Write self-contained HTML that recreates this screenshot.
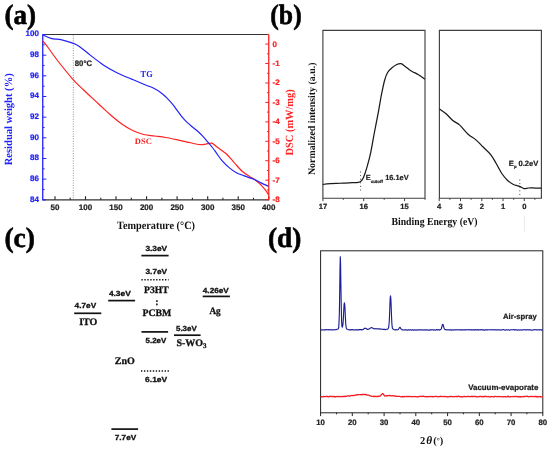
<!DOCTYPE html>
<html><head><meta charset="utf-8"><title>Figure</title>
<style>
html,body{margin:0;padding:0;background:#fff;}
svg{display:block;}
text{text-rendering:geometricPrecision;}
</style></head>
<body>
<svg width="550" height="449" viewBox="0 0 550 449">
<rect width="550" height="449" fill="#fff"/>
<text x="4.5" y="24" font-family="'Liberation Serif', 'Times New Roman', serif" font-weight="bold" font-size="28" stroke="#000" stroke-width="0.6" textLength="31.6" lengthAdjust="spacingAndGlyphs">(a)</text>
<line x1="42.75" y1="34.5" x2="268.75" y2="34.5" stroke="#333" stroke-width="1.1"/>
<line x1="42.75" y1="199.8" x2="268.75" y2="199.8" stroke="#333" stroke-width="1.3"/>
<line x1="55.0" y1="199.8" x2="55.0" y2="196.2" stroke="#222" stroke-width="1.1"/>
<line x1="70.2" y1="199.8" x2="70.2" y2="197.8" stroke="#222" stroke-width="1.1"/>
<line x1="85.5" y1="199.8" x2="85.5" y2="196.2" stroke="#222" stroke-width="1.1"/>
<line x1="100.8" y1="199.8" x2="100.8" y2="197.8" stroke="#222" stroke-width="1.1"/>
<line x1="116.0" y1="199.8" x2="116.0" y2="196.2" stroke="#222" stroke-width="1.1"/>
<line x1="131.3" y1="199.8" x2="131.3" y2="197.8" stroke="#222" stroke-width="1.1"/>
<line x1="146.6" y1="199.8" x2="146.6" y2="196.2" stroke="#222" stroke-width="1.1"/>
<line x1="161.9" y1="199.8" x2="161.9" y2="197.8" stroke="#222" stroke-width="1.1"/>
<line x1="177.1" y1="199.8" x2="177.1" y2="196.2" stroke="#222" stroke-width="1.1"/>
<line x1="192.4" y1="199.8" x2="192.4" y2="197.8" stroke="#222" stroke-width="1.1"/>
<line x1="207.7" y1="199.8" x2="207.7" y2="196.2" stroke="#222" stroke-width="1.1"/>
<line x1="222.9" y1="199.8" x2="222.9" y2="197.8" stroke="#222" stroke-width="1.1"/>
<line x1="238.2" y1="199.8" x2="238.2" y2="196.2" stroke="#222" stroke-width="1.1"/>
<line x1="253.5" y1="199.8" x2="253.5" y2="197.8" stroke="#222" stroke-width="1.1"/>
<line x1="268.8" y1="199.8" x2="268.8" y2="196.2" stroke="#222" stroke-width="1.1"/>
<text x="55.0" y="209.95" text-anchor="middle" font-family="'Liberation Sans', Arial, sans-serif" font-weight="bold" font-size="8" fill="#222" stroke="#222" stroke-width="0.22">50</text>
<text x="85.5" y="209.95" text-anchor="middle" font-family="'Liberation Sans', Arial, sans-serif" font-weight="bold" font-size="8" fill="#222" stroke="#222" stroke-width="0.22">100</text>
<text x="116.0" y="209.95" text-anchor="middle" font-family="'Liberation Sans', Arial, sans-serif" font-weight="bold" font-size="8" fill="#222" stroke="#222" stroke-width="0.22">150</text>
<text x="146.6" y="209.95" text-anchor="middle" font-family="'Liberation Sans', Arial, sans-serif" font-weight="bold" font-size="8" fill="#222" stroke="#222" stroke-width="0.22">200</text>
<text x="177.1" y="209.95" text-anchor="middle" font-family="'Liberation Sans', Arial, sans-serif" font-weight="bold" font-size="8" fill="#222" stroke="#222" stroke-width="0.22">250</text>
<text x="207.7" y="209.95" text-anchor="middle" font-family="'Liberation Sans', Arial, sans-serif" font-weight="bold" font-size="8" fill="#222" stroke="#222" stroke-width="0.22">300</text>
<text x="238.2" y="209.95" text-anchor="middle" font-family="'Liberation Sans', Arial, sans-serif" font-weight="bold" font-size="8" fill="#222" stroke="#222" stroke-width="0.22">350</text>
<text x="268.8" y="209.95" text-anchor="middle" font-family="'Liberation Sans', Arial, sans-serif" font-weight="bold" font-size="8" fill="#222" stroke="#222" stroke-width="0.22">400</text>
<path d="M42.75,34.5 L42.75,199.8 L45.75,199.8" fill="none" stroke="#2222fa" stroke-width="1.3"/>
<line x1="42.75" y1="189.5" x2="44.55" y2="189.5" stroke="#2222fa" stroke-width="1"/>
<line x1="42.75" y1="179.1" x2="46.25" y2="179.1" stroke="#2222fa" stroke-width="1"/>
<line x1="42.75" y1="168.8" x2="44.55" y2="168.8" stroke="#2222fa" stroke-width="1"/>
<line x1="42.75" y1="158.5" x2="46.25" y2="158.5" stroke="#2222fa" stroke-width="1"/>
<line x1="42.75" y1="148.1" x2="44.55" y2="148.1" stroke="#2222fa" stroke-width="1"/>
<line x1="42.75" y1="137.8" x2="46.25" y2="137.8" stroke="#2222fa" stroke-width="1"/>
<line x1="42.75" y1="127.5" x2="44.55" y2="127.5" stroke="#2222fa" stroke-width="1"/>
<line x1="42.75" y1="117.2" x2="46.25" y2="117.2" stroke="#2222fa" stroke-width="1"/>
<line x1="42.75" y1="106.8" x2="44.55" y2="106.8" stroke="#2222fa" stroke-width="1"/>
<line x1="42.75" y1="96.5" x2="46.25" y2="96.5" stroke="#2222fa" stroke-width="1"/>
<line x1="42.75" y1="86.2" x2="44.55" y2="86.2" stroke="#2222fa" stroke-width="1"/>
<line x1="42.75" y1="75.8" x2="46.25" y2="75.8" stroke="#2222fa" stroke-width="1"/>
<line x1="42.75" y1="65.5" x2="44.55" y2="65.5" stroke="#2222fa" stroke-width="1"/>
<line x1="42.75" y1="55.2" x2="46.25" y2="55.2" stroke="#2222fa" stroke-width="1"/>
<line x1="42.75" y1="44.8" x2="44.55" y2="44.8" stroke="#2222fa" stroke-width="1"/>
<line x1="42.75" y1="34.5" x2="46.25" y2="34.5" stroke="#2222fa" stroke-width="1"/>
<text x="38.9" y="201.7" text-anchor="end" font-family="'Liberation Sans', Arial, sans-serif" font-weight="bold" font-size="8" fill="#2222fa" stroke="#2222fa" stroke-width="0.22">84</text>
<text x="38.9" y="181.0" text-anchor="end" font-family="'Liberation Sans', Arial, sans-serif" font-weight="bold" font-size="8" fill="#2222fa" stroke="#2222fa" stroke-width="0.22">86</text>
<text x="38.9" y="160.4" text-anchor="end" font-family="'Liberation Sans', Arial, sans-serif" font-weight="bold" font-size="8" fill="#2222fa" stroke="#2222fa" stroke-width="0.22">88</text>
<text x="38.9" y="139.7" text-anchor="end" font-family="'Liberation Sans', Arial, sans-serif" font-weight="bold" font-size="8" fill="#2222fa" stroke="#2222fa" stroke-width="0.22">90</text>
<text x="38.9" y="119.1" text-anchor="end" font-family="'Liberation Sans', Arial, sans-serif" font-weight="bold" font-size="8" fill="#2222fa" stroke="#2222fa" stroke-width="0.22">92</text>
<text x="38.9" y="98.4" text-anchor="end" font-family="'Liberation Sans', Arial, sans-serif" font-weight="bold" font-size="8" fill="#2222fa" stroke="#2222fa" stroke-width="0.22">94</text>
<text x="38.9" y="77.7" text-anchor="end" font-family="'Liberation Sans', Arial, sans-serif" font-weight="bold" font-size="8" fill="#2222fa" stroke="#2222fa" stroke-width="0.22">96</text>
<text x="38.9" y="57.1" text-anchor="end" font-family="'Liberation Sans', Arial, sans-serif" font-weight="bold" font-size="8" fill="#2222fa" stroke="#2222fa" stroke-width="0.22">98</text>
<text x="38.9" y="36.4" text-anchor="end" font-family="'Liberation Sans', Arial, sans-serif" font-weight="bold" font-size="8" fill="#2222fa" stroke="#2222fa" stroke-width="0.22">100</text>
<line x1="268.75" y1="34.5" x2="268.75" y2="200.4" stroke="#fa2222" stroke-width="1.3"/>
<line x1="268.75" y1="199.6" x2="265.25" y2="199.6" stroke="#fa2222" stroke-width="1"/>
<line x1="268.75" y1="189.9" x2="266.95" y2="189.9" stroke="#fa2222" stroke-width="1"/>
<line x1="268.75" y1="180.2" x2="265.25" y2="180.2" stroke="#fa2222" stroke-width="1"/>
<line x1="268.75" y1="170.5" x2="266.95" y2="170.5" stroke="#fa2222" stroke-width="1"/>
<line x1="268.75" y1="160.7" x2="265.25" y2="160.7" stroke="#fa2222" stroke-width="1"/>
<line x1="268.75" y1="151.0" x2="266.95" y2="151.0" stroke="#fa2222" stroke-width="1"/>
<line x1="268.75" y1="141.3" x2="265.25" y2="141.3" stroke="#fa2222" stroke-width="1"/>
<line x1="268.75" y1="131.6" x2="266.95" y2="131.6" stroke="#fa2222" stroke-width="1"/>
<line x1="268.75" y1="121.9" x2="265.25" y2="121.9" stroke="#fa2222" stroke-width="1"/>
<line x1="268.75" y1="112.1" x2="266.95" y2="112.1" stroke="#fa2222" stroke-width="1"/>
<line x1="268.75" y1="102.4" x2="265.25" y2="102.4" stroke="#fa2222" stroke-width="1"/>
<line x1="268.75" y1="92.7" x2="266.95" y2="92.7" stroke="#fa2222" stroke-width="1"/>
<line x1="268.75" y1="83.0" x2="265.25" y2="83.0" stroke="#fa2222" stroke-width="1"/>
<line x1="268.75" y1="73.3" x2="266.95" y2="73.3" stroke="#fa2222" stroke-width="1"/>
<line x1="268.75" y1="63.5" x2="265.25" y2="63.5" stroke="#fa2222" stroke-width="1"/>
<line x1="268.75" y1="53.8" x2="266.95" y2="53.8" stroke="#fa2222" stroke-width="1"/>
<line x1="268.75" y1="44.1" x2="265.25" y2="44.1" stroke="#fa2222" stroke-width="1"/>
<line x1="268.75" y1="34.4" x2="266.95" y2="34.4" stroke="#fa2222" stroke-width="1"/>
<text x="272.6" y="202.1" font-family="'Liberation Sans', Arial, sans-serif" font-weight="bold" font-size="8" fill="#fa2222" stroke="#fa2222" stroke-width="0.22">-8</text>
<text x="272.6" y="182.6" font-family="'Liberation Sans', Arial, sans-serif" font-weight="bold" font-size="8" fill="#fa2222" stroke="#fa2222" stroke-width="0.22">-7</text>
<text x="272.6" y="163.2" font-family="'Liberation Sans', Arial, sans-serif" font-weight="bold" font-size="8" fill="#fa2222" stroke="#fa2222" stroke-width="0.22">-6</text>
<text x="272.6" y="143.8" font-family="'Liberation Sans', Arial, sans-serif" font-weight="bold" font-size="8" fill="#fa2222" stroke="#fa2222" stroke-width="0.22">-5</text>
<text x="272.6" y="124.3" font-family="'Liberation Sans', Arial, sans-serif" font-weight="bold" font-size="8" fill="#fa2222" stroke="#fa2222" stroke-width="0.22">-4</text>
<text x="272.6" y="104.9" font-family="'Liberation Sans', Arial, sans-serif" font-weight="bold" font-size="8" fill="#fa2222" stroke="#fa2222" stroke-width="0.22">-3</text>
<text x="272.6" y="85.4" font-family="'Liberation Sans', Arial, sans-serif" font-weight="bold" font-size="8" fill="#fa2222" stroke="#fa2222" stroke-width="0.22">-2</text>
<text x="272.6" y="66.0" font-family="'Liberation Sans', Arial, sans-serif" font-weight="bold" font-size="8" fill="#fa2222" stroke="#fa2222" stroke-width="0.22">-1</text>
<text x="272.6" y="46.6" font-family="'Liberation Sans', Arial, sans-serif" font-weight="bold" font-size="8" fill="#fa2222" stroke="#fa2222" stroke-width="0.22">0</text>
<text transform="translate(11.8,119.3) rotate(-90)" text-anchor="middle" font-family="'Liberation Serif', 'Times New Roman', serif" font-weight="bold" font-size="11" fill="#2222fa" textLength="92" lengthAdjust="spacingAndGlyphs">Residual weight (%)</text>
<text transform="translate(292.5,122.4) rotate(-90)" text-anchor="middle" font-family="'Liberation Serif', 'Times New Roman', serif" font-weight="bold" font-size="11" fill="#fa2222" textLength="66" lengthAdjust="spacingAndGlyphs">DSC (mW/mg)</text>
<text x="156" y="228.8" text-anchor="middle" font-family="'Liberation Serif', 'Times New Roman', serif" font-weight="bold" font-size="11.2" fill="#111" textLength="78" lengthAdjust="spacingAndGlyphs">Temperature (°C)</text>
<line x1="73.3" y1="35.5" x2="73.3" y2="199.8" stroke="#777" stroke-width="0.8" stroke-dasharray="1,1.45"/>
<text x="74.8" y="66.1" font-family="'Liberation Sans', Arial, sans-serif" font-weight="bold" font-size="8" fill="#222" stroke="#222" stroke-width="0.22" textLength="17.3" lengthAdjust="spacingAndGlyphs">80°C</text>
<text x="140.6" y="76.8" font-family="'Liberation Serif', 'Times New Roman', serif" font-weight="bold" font-size="9" fill="#2222fa" textLength="12" lengthAdjust="spacingAndGlyphs">TG</text>
<text x="134.8" y="143.6" font-family="'Liberation Serif', 'Times New Roman', serif" font-weight="bold" font-size="8.5" fill="#fa2222">DSC</text>
<path d="M42.6,40.9 C43.2,41.6 44.0,42.0 46.5,45.3 C49.0,48.6 53.1,54.9 57.5,60.5 C61.9,66.1 68.4,74.2 72.7,79.1 C77.0,84.0 79.2,85.8 83.6,90.0 C88.0,94.2 94.4,100.0 98.9,104.2 C103.5,108.4 107.1,112.0 110.9,115.3 C114.7,118.6 118.2,121.5 121.8,124.0 C125.4,126.5 129.1,128.8 132.7,130.5 C136.3,132.2 140.0,133.6 143.6,134.5 C147.2,135.4 150.8,135.5 154.5,136.0 C158.2,136.5 161.8,136.9 165.5,137.5 C169.2,138.1 172.8,138.9 176.4,139.7 C180.0,140.5 183.3,141.3 187.3,142.1 C191.3,142.9 197.3,144.4 200.4,144.7 C203.5,145.0 203.9,144.3 205.8,144.1 C207.7,143.8 209.7,142.7 211.6,143.2 C213.5,143.7 215.1,145.5 217.5,147.3 C219.9,149.1 223.5,151.4 226.2,153.8 C228.9,156.2 230.8,158.9 233.5,161.8 C236.2,164.7 239.5,168.9 242.2,171.3 C244.9,173.7 247.3,175.0 249.5,176.4 C251.7,177.8 253.4,178.6 255.3,180.0 C257.2,181.4 259.4,183.4 261.1,185.1 C262.8,186.8 264.3,188.6 265.5,190.2 C266.7,191.8 267.9,193.8 268.4,194.5" fill="none" stroke="#fa2222" stroke-width="1.2"/>
<path d="M42.6,34.8 C44.0,35.4 47.7,37.5 50.9,38.3 C54.1,39.1 58.2,39.0 61.8,39.8 C65.4,40.6 69.8,42.0 72.7,43.1 C75.6,44.2 76.4,44.4 79.3,46.4 C82.2,48.4 86.2,52.0 90.2,55.1 C94.2,58.2 98.9,62.0 103.3,64.9 C107.7,67.8 111.7,70.1 116.4,72.5 C121.1,74.9 126.8,77.1 131.6,79.1 C136.4,81.1 141.5,83.2 145.0,84.7 C148.5,86.2 150.2,86.5 152.8,87.8 C155.4,89.1 158.3,90.8 160.6,92.5 C162.9,94.2 164.7,95.8 166.8,97.9 C168.9,100.0 171.3,102.7 173.1,104.9 C174.9,107.1 176.1,109.1 177.7,111.2 C179.2,113.3 180.8,115.5 182.4,117.4 C184.0,119.3 185.5,120.9 187.1,122.4 C188.7,123.9 190.0,125.0 191.8,126.5 C193.6,128.0 196.2,129.9 198.0,131.5 C199.8,133.1 201.1,134.4 202.7,136.1 C204.3,137.8 205.8,139.8 207.4,141.6 C209.0,143.4 210.6,145.2 212.0,147.0 C213.4,148.8 214.4,150.2 216.0,152.4 C217.6,154.6 219.6,157.9 221.8,160.4 C224.0,162.9 226.7,165.6 229.1,167.6 C231.5,169.6 234.0,171.4 236.4,172.7 C238.8,174.0 240.7,174.5 243.6,175.6 C246.5,176.7 250.9,178.1 253.8,179.3 C256.7,180.5 258.7,181.7 261.1,182.9 C263.5,184.1 267.2,185.7 268.4,186.3" fill="none" stroke="#2222fa" stroke-width="1.2"/>
<text x="270.3" y="24" font-family="'Liberation Serif', 'Times New Roman', serif" font-weight="bold" font-size="28" stroke="#000" stroke-width="0.6" textLength="31.4" lengthAdjust="spacingAndGlyphs">(b)</text>
<path d="M322.9,198.2 L322.9,30.3 L425.0,30.3 L425.0,198.2 Z" fill="none" stroke="#404040" stroke-width="1.15"/>
<path d="M439.4,198.2 L439.4,30.3 L541.4,30.3 L541.4,198.2 Z" fill="none" stroke="#404040" stroke-width="1.15"/>
<line x1="322.9" y1="198.2" x2="322.9" y2="201.2" stroke="#404040" stroke-width="1"/>
<line x1="343.3" y1="198.2" x2="343.3" y2="199.8" stroke="#404040" stroke-width="1"/>
<line x1="363.7" y1="198.2" x2="363.7" y2="201.2" stroke="#404040" stroke-width="1"/>
<line x1="384.2" y1="198.2" x2="384.2" y2="199.8" stroke="#404040" stroke-width="1"/>
<line x1="404.6" y1="198.2" x2="404.6" y2="201.2" stroke="#404040" stroke-width="1"/>
<line x1="425.0" y1="198.2" x2="425.0" y2="199.8" stroke="#404040" stroke-width="1"/>
<text x="322.9" y="209.1" text-anchor="middle" font-family="'Liberation Sans', Arial, sans-serif" font-weight="bold" font-size="7.6" fill="#222" stroke="#222" stroke-width="0.22">17</text>
<text x="363.7" y="209.1" text-anchor="middle" font-family="'Liberation Sans', Arial, sans-serif" font-weight="bold" font-size="7.6" fill="#222" stroke="#222" stroke-width="0.22">16</text>
<text x="404.6" y="209.1" text-anchor="middle" font-family="'Liberation Sans', Arial, sans-serif" font-weight="bold" font-size="7.6" fill="#222" stroke="#222" stroke-width="0.22">15</text>
<line x1="439.2" y1="198.2" x2="439.2" y2="201.2" stroke="#404040" stroke-width="1"/>
<line x1="449.9" y1="198.2" x2="449.9" y2="199.8" stroke="#404040" stroke-width="1"/>
<line x1="460.5" y1="198.2" x2="460.5" y2="201.2" stroke="#404040" stroke-width="1"/>
<line x1="471.1" y1="198.2" x2="471.1" y2="199.8" stroke="#404040" stroke-width="1"/>
<line x1="481.8" y1="198.2" x2="481.8" y2="201.2" stroke="#404040" stroke-width="1"/>
<line x1="492.4" y1="198.2" x2="492.4" y2="199.8" stroke="#404040" stroke-width="1"/>
<line x1="503.0" y1="198.2" x2="503.0" y2="201.2" stroke="#404040" stroke-width="1"/>
<line x1="513.7" y1="198.2" x2="513.7" y2="199.8" stroke="#404040" stroke-width="1"/>
<line x1="524.3" y1="198.2" x2="524.3" y2="201.2" stroke="#404040" stroke-width="1"/>
<line x1="534.9" y1="198.2" x2="534.9" y2="199.8" stroke="#404040" stroke-width="1"/>
<text x="439.2" y="209.1" text-anchor="middle" font-family="'Liberation Sans', Arial, sans-serif" font-weight="bold" font-size="7.6" fill="#222" stroke="#222" stroke-width="0.22">4</text>
<text x="460.5" y="209.1" text-anchor="middle" font-family="'Liberation Sans', Arial, sans-serif" font-weight="bold" font-size="7.6" fill="#222" stroke="#222" stroke-width="0.22">3</text>
<text x="481.8" y="209.1" text-anchor="middle" font-family="'Liberation Sans', Arial, sans-serif" font-weight="bold" font-size="7.6" fill="#222" stroke="#222" stroke-width="0.22">2</text>
<text x="503.0" y="209.1" text-anchor="middle" font-family="'Liberation Sans', Arial, sans-serif" font-weight="bold" font-size="7.6" fill="#222" stroke="#222" stroke-width="0.22">1</text>
<text x="524.3" y="209.1" text-anchor="middle" font-family="'Liberation Sans', Arial, sans-serif" font-weight="bold" font-size="7.6" fill="#222" stroke="#222" stroke-width="0.22">0</text>
<text transform="translate(315,118.8) rotate(-90)" text-anchor="middle" font-family="'Liberation Serif', 'Times New Roman', serif" font-weight="bold" font-size="10" fill="#111" textLength="112.5" lengthAdjust="spacingAndGlyphs">Normalized intensity (a.u.)</text>
<text x="434.5" y="224.6" text-anchor="middle" font-family="'Liberation Serif', 'Times New Roman', serif" font-weight="bold" font-size="10.8" fill="#111" textLength="86" lengthAdjust="spacingAndGlyphs">Binding Energy (eV)</text>
<path d="M322.7,184.5 C324.0,184.3 327.6,183.8 330.7,183.6 C333.8,183.4 337.8,183.2 341.4,183.1 C345.0,182.9 349.3,182.8 352.1,182.7 C354.9,182.6 356.8,182.7 358.3,182.4 C359.8,182.1 360.1,182.0 361.0,181.1 C361.9,180.2 362.7,179.5 363.7,177.0 C364.7,174.5 366.0,170.5 367.2,166.3 C368.4,162.2 369.6,157.8 370.8,152.1 C372.0,146.4 373.2,138.7 374.5,132.0 C375.8,125.3 377.2,118.2 378.4,111.8 C379.6,105.4 380.6,98.7 381.7,93.4 C382.8,88.1 383.7,83.5 384.7,80.0 C385.7,76.5 386.4,74.5 387.6,72.5 C388.8,70.5 390.3,69.2 391.7,68.0 C393.1,66.8 394.4,65.7 395.9,65.0 C397.4,64.3 399.4,63.5 400.9,63.7 C402.4,63.9 403.7,65.4 405.1,66.4 C406.5,67.4 408.1,68.8 409.3,69.7 C410.6,70.6 411.1,70.9 412.6,71.7 C414.1,72.5 416.5,73.5 418.5,74.7 C420.5,76.0 423.8,78.5 424.8,79.2" fill="none" stroke="#1a1a1a" stroke-width="1.25"/>
<path d="M439.5,108.9 C440.6,109.7 443.9,111.9 446.1,113.8 C448.3,115.7 450.6,118.7 452.8,120.5 C455.0,122.3 456.9,122.6 459.5,124.9 C462.1,127.2 465.6,132.0 468.4,134.5 C471.2,137.0 473.8,138.0 476.2,140.1 C478.6,142.2 480.5,144.4 482.9,146.8 C485.3,149.2 488.5,151.8 490.7,154.6 C492.9,157.4 494.3,160.3 496.2,163.5 C498.1,166.7 499.9,170.7 501.8,173.5 C503.7,176.3 505.5,178.4 507.4,180.2 C509.3,182.0 511.0,183.2 513.0,184.2 C515.0,185.2 517.8,185.7 519.6,186.4 C521.5,187.1 522.6,188.3 524.1,188.6 C525.6,188.9 526.6,188.1 528.5,188.0 C530.4,187.9 533.0,188.0 535.2,188.0 C537.4,188.0 540.5,188.2 541.5,188.2" fill="none" stroke="#1a1a1a" stroke-width="1.25"/>
<line x1="360.6" y1="171.5" x2="360.6" y2="193" stroke="#333" stroke-width="0.9" stroke-dasharray="1,2.6"/>
<line x1="519.8" y1="179.5" x2="519.8" y2="196.5" stroke="#333" stroke-width="0.9" stroke-dasharray="1,2.6"/>
<text x="365.8" y="179.6" font-family="'Liberation Sans', Arial, sans-serif" font-weight="bold" font-size="7.4" fill="#222" stroke="#222" stroke-width="0.22">E<tspan font-size="4.4" dy="2.9">cutoff</tspan><tspan dy="-2.9" dx="2.2">16.1eV</tspan></text>
<text x="508.8" y="166" font-family="'Liberation Sans', Arial, sans-serif" font-weight="bold" font-size="7.6" fill="#222" stroke="#222" stroke-width="0.22">E<tspan font-size="4.4" dy="2.5">F</tspan><tspan dy="-2.5" dx="1.9">0.2eV</tspan></text>
<line x1="524.5" y1="216" x2="524.5" y2="231.5" stroke="#e4e4e4" stroke-width="0.8"/>
<text x="4.4" y="246.9" font-family="'Liberation Serif', 'Times New Roman', serif" font-weight="bold" font-size="28" stroke="#000" stroke-width="0.6" textLength="30.6" lengthAdjust="spacingAndGlyphs">(c)</text>
<line x1="74.2" y1="313.3" x2="101.3" y2="313.3" stroke="#111" stroke-width="1.7"/>
<text x="74.6" y="307.5" font-family="'Liberation Sans', Arial, sans-serif" font-weight="bold" font-size="7.4" fill="#111" stroke="#111" stroke-width="0.3" textLength="21.6" lengthAdjust="spacingAndGlyphs">4.7eV</text>
<text x="79.2" y="324.7" font-family="'Liberation Serif', 'Times New Roman', serif" font-weight="bold" font-size="10" fill="#111" stroke="#111" stroke-width="0.3">ITO</text>
<line x1="108.2" y1="300.6" x2="135.1" y2="300.6" stroke="#111" stroke-width="1.7"/>
<text x="108.9" y="296.4" font-family="'Liberation Sans', Arial, sans-serif" font-weight="bold" font-size="7.4" fill="#111" stroke="#111" stroke-width="0.3" textLength="21.9" lengthAdjust="spacingAndGlyphs">4.3eV</text>
<line x1="141.4" y1="255.6" x2="168.6" y2="255.6" stroke="#111" stroke-width="1.7"/>
<text x="145.4" y="250.7" font-family="'Liberation Sans', Arial, sans-serif" font-weight="bold" font-size="7.4" fill="#111" stroke="#111" stroke-width="0.3" textLength="21.7" lengthAdjust="spacingAndGlyphs">3.3eV</text>
<line x1="141.4" y1="279.8" x2="168.6" y2="279.8" stroke="#111" stroke-width="1.5" stroke-dasharray="1.35,1.6"/>
<text x="145.5" y="274.4" font-family="'Liberation Sans', Arial, sans-serif" font-weight="bold" font-size="7.4" fill="#111" stroke="#111" stroke-width="0.3" textLength="21.6" lengthAdjust="spacingAndGlyphs">3.7eV</text>
<text x="144" y="293.4" font-family="'Liberation Serif', 'Times New Roman', serif" font-weight="bold" font-size="10" fill="#111" stroke="#111" stroke-width="0.3" textLength="24.6" lengthAdjust="spacingAndGlyphs">P3HT</text>
<text x="155.2" y="305" font-family="'Liberation Serif', 'Times New Roman', serif" font-weight="bold" font-size="10" fill="#111" stroke="#111" stroke-width="0.3">:</text>
<text x="142.5" y="316.4" font-family="'Liberation Serif', 'Times New Roman', serif" font-weight="bold" font-size="10" fill="#111" stroke="#111" stroke-width="0.3" textLength="28.8" lengthAdjust="spacingAndGlyphs">PCBM</text>
<line x1="202.7" y1="296.4" x2="229.9" y2="296.4" stroke="#111" stroke-width="1.7"/>
<text x="202.8" y="292.7" font-family="'Liberation Sans', Arial, sans-serif" font-weight="bold" font-size="7.4" fill="#111" stroke="#111" stroke-width="0.3" textLength="26.0" lengthAdjust="spacingAndGlyphs">4.26eV</text>
<text x="209.5" y="313.8" font-family="'Liberation Serif', 'Times New Roman', serif" font-weight="bold" font-size="10" fill="#111" stroke="#111" stroke-width="0.3" textLength="11.2" lengthAdjust="spacingAndGlyphs">Ag</text>
<line x1="141.5" y1="331.9" x2="168.1" y2="331.9" stroke="#111" stroke-width="1.7"/>
<text x="145.6" y="342.8" font-family="'Liberation Sans', Arial, sans-serif" font-weight="bold" font-size="7.4" fill="#111" stroke="#111" stroke-width="0.3" textLength="20.7" lengthAdjust="spacingAndGlyphs">5.2eV</text>
<line x1="174" y1="335.2" x2="200.6" y2="335.2" stroke="#111" stroke-width="1.7"/>
<text x="176.0" y="330.5" font-family="'Liberation Sans', Arial, sans-serif" font-weight="bold" font-size="7.4" fill="#111" stroke="#111" stroke-width="0.3" textLength="20.7" lengthAdjust="spacingAndGlyphs">5.3eV</text>
<text x="176.4" y="345.7" font-family="'Liberation Serif', 'Times New Roman', serif" font-weight="bold" font-size="10" fill="#111" stroke="#111" stroke-width="0.3">S-WO<tspan font-size="7" dy="1.9">3</tspan></text>
<text x="114.8" y="363.5" font-family="'Liberation Serif', 'Times New Roman', serif" font-weight="bold" font-size="10" fill="#111" stroke="#111" stroke-width="0.3" textLength="20" lengthAdjust="spacingAndGlyphs">ZnO</text>
<line x1="141" y1="371.1" x2="168.9" y2="371.1" stroke="#111" stroke-width="1.5" stroke-dasharray="1.35,1.6"/>
<text x="145.1" y="381.7" font-family="'Liberation Sans', Arial, sans-serif" font-weight="bold" font-size="7.4" fill="#111" stroke="#111" stroke-width="0.3" textLength="22.1" lengthAdjust="spacingAndGlyphs">6.1eV</text>
<line x1="111.4" y1="429.1" x2="138.1" y2="429.1" stroke="#111" stroke-width="1.7"/>
<text x="114.7" y="439.9" font-family="'Liberation Sans', Arial, sans-serif" font-weight="bold" font-size="7.4" fill="#111" stroke="#111" stroke-width="0.3" textLength="21.6" lengthAdjust="spacingAndGlyphs">7.7eV</text>
<text x="267.9" y="246.9" font-family="'Liberation Serif', 'Times New Roman', serif" font-weight="bold" font-size="28" stroke="#000" stroke-width="0.6" textLength="33.4" lengthAdjust="spacingAndGlyphs">(d)</text>
<rect x="320.6" y="250.8" width="222.2" height="162.0" fill="none" stroke="#222" stroke-width="1"/>
<line x1="320.6" y1="412.8" x2="320.6" y2="416.1" stroke="#222" stroke-width="1"/>
<line x1="336.5" y1="412.8" x2="336.5" y2="414.3" stroke="#222" stroke-width="1"/>
<line x1="352.3" y1="412.8" x2="352.3" y2="416.1" stroke="#222" stroke-width="1"/>
<line x1="368.2" y1="412.8" x2="368.2" y2="414.3" stroke="#222" stroke-width="1"/>
<line x1="384.1" y1="412.8" x2="384.1" y2="416.1" stroke="#222" stroke-width="1"/>
<line x1="400.0" y1="412.8" x2="400.0" y2="414.3" stroke="#222" stroke-width="1"/>
<line x1="415.8" y1="412.8" x2="415.8" y2="416.1" stroke="#222" stroke-width="1"/>
<line x1="431.7" y1="412.8" x2="431.7" y2="414.3" stroke="#222" stroke-width="1"/>
<line x1="447.6" y1="412.8" x2="447.6" y2="416.1" stroke="#222" stroke-width="1"/>
<line x1="463.4" y1="412.8" x2="463.4" y2="414.3" stroke="#222" stroke-width="1"/>
<line x1="479.3" y1="412.8" x2="479.3" y2="416.1" stroke="#222" stroke-width="1"/>
<line x1="495.2" y1="412.8" x2="495.2" y2="414.3" stroke="#222" stroke-width="1"/>
<line x1="511.1" y1="412.8" x2="511.1" y2="416.1" stroke="#222" stroke-width="1"/>
<line x1="526.9" y1="412.8" x2="526.9" y2="414.3" stroke="#222" stroke-width="1"/>
<line x1="542.8" y1="412.8" x2="542.8" y2="416.1" stroke="#222" stroke-width="1"/>
<text x="320.6" y="425" text-anchor="middle" font-family="'Liberation Sans', Arial, sans-serif" font-weight="bold" font-size="7.8" fill="#222" stroke="#222" stroke-width="0.22">10</text>
<text x="352.3" y="425" text-anchor="middle" font-family="'Liberation Sans', Arial, sans-serif" font-weight="bold" font-size="7.8" fill="#222" stroke="#222" stroke-width="0.22">20</text>
<text x="384.1" y="425" text-anchor="middle" font-family="'Liberation Sans', Arial, sans-serif" font-weight="bold" font-size="7.8" fill="#222" stroke="#222" stroke-width="0.22">30</text>
<text x="415.8" y="425" text-anchor="middle" font-family="'Liberation Sans', Arial, sans-serif" font-weight="bold" font-size="7.8" fill="#222" stroke="#222" stroke-width="0.22">40</text>
<text x="447.6" y="425" text-anchor="middle" font-family="'Liberation Sans', Arial, sans-serif" font-weight="bold" font-size="7.8" fill="#222" stroke="#222" stroke-width="0.22">50</text>
<text x="479.3" y="425" text-anchor="middle" font-family="'Liberation Sans', Arial, sans-serif" font-weight="bold" font-size="7.8" fill="#222" stroke="#222" stroke-width="0.22">60</text>
<text x="511.1" y="425" text-anchor="middle" font-family="'Liberation Sans', Arial, sans-serif" font-weight="bold" font-size="7.8" fill="#222" stroke="#222" stroke-width="0.22">70</text>
<text x="542.8" y="425" text-anchor="middle" font-family="'Liberation Sans', Arial, sans-serif" font-weight="bold" font-size="7.8" fill="#222" stroke="#222" stroke-width="0.22">80</text>
<text x="420" y="443.6" font-family="'Liberation Serif', 'Times New Roman', serif" font-weight="bold" font-size="10.5" fill="#111">2<tspan dx="1.1" font-style="italic" font-size="11.3">θ</tspan><tspan dx="0.9">(</tspan><tspan font-size="7.5" dy="-0.6">°</tspan><tspan dy="0.6">)</tspan></text>
<text x="503" y="319" font-family="'Liberation Sans', Arial, sans-serif" font-weight="bold" font-size="7.7" fill="#222" stroke="#222" stroke-width="0.22">Air-spray</text>
<text x="468.2" y="390.2" font-family="'Liberation Sans', Arial, sans-serif" font-weight="bold" font-size="7.9" fill="#222" stroke="#222" stroke-width="0.22">Vacuum-evaporate</text>
<path d="M320.6,330.0 L320.9,330.0 L321.2,329.9 L321.6,329.8 L321.9,329.8 L322.2,329.8 L322.5,330.0 L322.8,330.0 L323.1,330.0 L323.5,329.9 L323.8,330.0 L324.1,330.0 L324.4,329.9 L324.7,329.9 L325.1,329.9 L325.4,329.9 L325.7,329.9 L326.0,329.6 L326.3,329.6 L326.6,329.5 L327.0,329.7 L327.3,329.7 L327.6,329.8 L327.9,329.9 L328.2,329.9 L328.5,329.7 L328.9,329.6 L329.2,329.7 L329.5,329.9 L329.8,329.8 L330.1,329.7 L330.5,329.6 L330.8,329.7 L331.1,329.8 L331.4,329.8 L331.7,329.9 L332.0,329.9 L332.4,329.9 L332.7,329.8 L333.0,329.8 L333.3,329.8 L333.6,329.7 L334.0,329.7 L334.3,329.8 L334.6,329.7 L334.9,329.8 L335.2,329.6 L335.5,329.7 L335.9,329.7 L336.2,329.7 L336.5,329.6 L336.8,329.4 L337.1,329.3 L337.4,329.2 L337.8,329.1 L338.1,328.9 L338.4,328.5 L338.7,327.3 L339.0,323.0 L339.4,312.1 L339.7,292.0 L340.0,269.1 L340.3,256.7 L340.6,264.7 L340.9,286.5 L341.3,308.1 L341.6,321.0 L341.9,326.1 L342.2,327.2 L342.5,326.7 L342.9,324.8 L343.2,321.2 L343.5,315.6 L343.8,309.5 L344.1,304.4 L344.4,302.8 L344.8,305.3 L345.1,310.9 L345.4,317.6 L345.7,322.9 L346.0,326.3 L346.3,328.0 L346.7,328.8 L347.0,329.2 L347.3,329.2 L347.6,329.3 L347.9,329.4 L348.3,329.6 L348.6,329.7 L348.9,329.8 L349.2,329.8 L349.5,329.7 L349.8,329.9 L350.2,329.8 L350.5,329.9 L350.8,329.7 L351.1,329.8 L351.4,329.6 L351.8,329.5 L352.1,329.5 L352.4,329.6 L352.7,329.8 L353.0,330.0 L353.3,330.0 L353.7,329.9 L354.0,329.8 L354.3,329.9 L354.6,329.9 L354.9,329.9 L355.2,329.9 L355.6,330.0 L355.9,329.9 L356.2,329.8 L356.5,329.8 L356.8,329.8 L357.2,329.8 L357.5,329.7 L357.8,329.9 L358.1,329.9 L358.4,330.0 L358.7,329.8 L359.1,329.8 L359.4,329.6 L359.7,329.6 L360.0,329.6 L360.3,329.6 L360.7,329.7 L361.0,329.6 L361.3,329.8 L361.6,329.6 L361.9,329.8 L362.2,329.7 L362.6,329.6 L362.9,329.5 L363.2,329.5 L363.5,329.4 L363.8,329.0 L364.1,328.6 L364.5,328.3 L364.8,328.3 L365.1,328.2 L365.4,328.3 L365.7,328.3 L366.1,328.5 L366.4,328.6 L366.7,329.0 L367.0,329.1 L367.3,329.4 L367.6,329.4 L368.0,329.3 L368.3,329.2 L368.6,329.1 L368.9,329.0 L369.2,328.9 L369.6,328.7 L369.9,328.4 L370.2,328.1 L370.5,328.1 L370.8,327.9 L371.1,327.8 L371.5,327.6 L371.8,327.8 L372.1,327.9 L372.4,328.0 L372.7,328.0 L373.1,328.2 L373.4,328.4 L373.7,328.6 L374.0,328.8 L374.3,328.7 L374.6,328.8 L375.0,328.8 L375.3,328.8 L375.6,328.7 L375.9,328.6 L376.2,328.7 L376.5,328.8 L376.9,328.9 L377.2,328.8 L377.5,328.8 L377.8,328.8 L378.1,328.8 L378.5,328.9 L378.8,328.9 L379.1,328.9 L379.4,329.0 L379.7,329.1 L380.0,329.1 L380.4,329.0 L380.7,328.9 L381.0,328.9 L381.3,329.1 L381.6,329.2 L382.0,329.2 L382.3,329.2 L382.6,329.3 L382.9,329.4 L383.2,329.3 L383.5,329.4 L383.9,329.2 L384.2,329.4 L384.5,329.3 L384.8,329.5 L385.1,329.6 L385.4,329.7 L385.8,329.5 L386.1,329.2 L386.4,329.2 L386.7,329.2 L387.0,329.3 L387.4,329.2 L387.7,329.1 L388.0,328.8 L388.3,328.4 L388.6,327.6 L388.9,325.5 L389.3,321.0 L389.6,313.8 L389.9,305.2 L390.2,298.1 L390.5,295.8 L390.9,299.4 L391.2,307.2 L391.5,315.7 L391.8,322.4 L392.1,326.2 L392.4,328.1 L392.8,328.8 L393.1,329.1 L393.4,329.3 L393.7,329.4 L394.0,329.6 L394.3,329.6 L394.7,329.9 L395.0,329.8 L395.3,329.9 L395.6,329.7 L395.9,329.8 L396.3,329.7 L396.6,329.6 L396.9,329.7 L397.2,329.8 L397.5,329.8 L397.8,329.7 L398.2,329.6 L398.5,329.3 L398.8,328.8 L399.1,328.3 L399.4,327.8 L399.8,327.4 L400.1,327.4 L400.4,327.9 L400.7,328.5 L401.0,328.9 L401.3,329.0 L401.7,329.4 L402.0,329.7 L402.3,329.9 L402.6,329.9 L402.9,329.9 L403.2,330.0 L403.6,330.0 L403.9,330.0 L404.2,329.9 L404.5,329.9 L404.8,329.8 L405.2,330.0 L405.5,329.9 L405.8,329.9 L406.1,329.8 L406.4,329.8 L406.7,330.0 L407.1,330.1 L407.4,330.2 L407.7,330.1 L408.0,330.0 L408.3,329.8 L408.7,329.8 L409.0,329.7 L409.3,330.0 L409.6,329.8 L409.9,329.8 L410.2,329.8 L410.6,330.0 L410.9,330.0 L411.2,330.1 L411.5,330.1 L411.8,330.0 L412.2,330.0 L412.5,329.7 L412.8,329.9 L413.1,330.0 L413.4,330.2 L413.7,330.1 L414.1,330.1 L414.4,330.0 L414.7,329.9 L415.0,329.9 L415.3,329.9 L415.6,330.0 L416.0,330.1 L416.3,330.1 L416.6,329.9 L416.9,329.8 L417.2,330.0 L417.6,330.1 L417.9,330.1 L418.2,329.9 L418.5,329.8 L418.8,329.8 L419.1,329.9 L419.5,330.0 L419.8,329.9 L420.1,329.9 L420.4,329.9 L420.7,329.8 L421.1,329.8 L421.4,329.7 L421.7,329.9 L422.0,329.9 L422.3,330.0 L422.6,330.0 L423.0,330.1 L423.3,330.0 L423.6,329.9 L423.9,329.9 L424.2,329.9 L424.5,329.9 L424.9,330.0 L425.2,330.1 L425.5,330.1 L425.8,329.8 L426.1,329.8 L426.5,329.8 L426.8,329.8 L427.1,329.8 L427.4,329.9 L427.7,330.0 L428.0,330.1 L428.4,330.2 L428.7,330.1 L429.0,330.2 L429.3,330.1 L429.6,330.0 L430.0,329.7 L430.3,329.8 L430.6,329.9 L430.9,330.1 L431.2,330.0 L431.5,329.8 L431.9,329.7 L432.2,329.8 L432.5,329.9 L432.8,329.9 L433.1,329.9 L433.4,329.9 L433.8,329.9 L434.1,329.9 L434.4,329.9 L434.7,330.0 L435.0,330.1 L435.4,330.1 L435.7,330.1 L436.0,329.8 L436.3,329.8 L436.6,329.6 L436.9,329.6 L437.3,329.7 L437.6,329.9 L437.9,330.0 L438.2,329.8 L438.5,329.7 L438.9,329.6 L439.2,329.8 L439.5,330.0 L439.8,330.1 L440.1,329.9 L440.4,329.6 L440.8,329.4 L441.1,329.1 L441.4,328.5 L441.7,327.5 L442.0,326.1 L442.3,325.1 L442.7,324.4 L443.0,324.6 L443.3,325.3 L443.6,326.5 L443.9,327.7 L444.3,328.7 L444.6,329.2 L444.9,329.4 L445.2,329.5 L445.5,329.6 L445.8,329.7 L446.2,329.9 L446.5,329.9 L446.8,329.8 L447.1,329.7 L447.4,329.7 L447.8,329.9 L448.1,329.9 L448.4,330.0 L448.7,330.0 L449.0,329.9 L449.3,329.7 L449.7,329.8 L450.0,329.9 L450.3,329.8 L450.6,329.9 L450.9,329.9 L451.2,330.2 L451.6,330.0 L451.9,330.0 L452.2,329.8 L452.5,330.0 L452.8,330.0 L453.2,330.2 L453.5,330.0 L453.8,330.0 L454.1,329.7 L454.4,329.7 L454.7,329.8 L455.1,329.9 L455.4,330.0 L455.7,329.9 L456.0,329.9 L456.3,329.8 L456.7,329.7 L457.0,329.8 L457.3,329.8 L457.6,329.8 L457.9,329.8 L458.2,329.7 L458.6,329.7 L458.9,329.7 L459.2,329.9 L459.5,329.8 L459.8,329.9 L460.2,329.7 L460.5,329.8 L460.8,329.8 L461.1,329.9 L461.4,330.1 L461.7,329.9 L462.1,330.0 L462.4,329.9 L462.7,329.9 L463.0,329.9 L463.3,329.9 L463.6,330.0 L464.0,329.9 L464.3,329.9 L464.6,329.8 L464.9,329.8 L465.2,330.0 L465.6,329.9 L465.9,329.9 L466.2,329.7 L466.5,329.8 L466.8,329.7 L467.1,329.7 L467.5,329.7 L467.8,329.8 L468.1,329.9 L468.4,329.8 L468.7,329.6 L469.1,329.7 L469.4,329.8 L469.7,329.8 L470.0,329.8 L470.3,329.8 L470.6,329.8 L471.0,329.9 L471.3,329.8 L471.6,329.8 L471.9,329.6 L472.2,329.8 L472.5,329.9 L472.9,330.1 L473.2,329.9 L473.5,329.9 L473.8,329.9 L474.1,330.1 L474.5,330.0 L474.8,329.8 L475.1,329.6 L475.4,329.6 L475.7,329.8 L476.0,329.9 L476.4,329.9 L476.7,329.8 L477.0,329.7 L477.3,329.9 L477.6,329.8 L478.0,329.8 L478.3,329.6 L478.6,329.9 L478.9,329.8 L479.2,329.9 L479.5,329.7 L479.9,329.7 L480.2,329.8 L480.5,330.0 L480.8,330.0 L481.1,329.9 L481.4,329.6 L481.8,329.6 L482.1,329.7 L482.4,329.9 L482.7,329.9 L483.0,329.8 L483.4,329.8 L483.7,329.8 L484.0,330.0 L484.3,330.2 L484.6,330.1 L484.9,330.0 L485.3,329.8 L485.6,329.8 L485.9,329.8 L486.2,329.8 L486.5,329.7 L486.9,329.9 L487.2,329.8 L487.5,330.0 L487.8,329.9 L488.1,329.8 L488.4,329.7 L488.8,329.7 L489.1,329.7 L489.4,329.8 L489.7,329.9 L490.0,329.8 L490.3,329.8 L490.7,329.7 L491.0,329.7 L491.3,329.7 L491.6,329.6 L491.9,329.7 L492.3,329.7 L492.6,329.9 L492.9,329.9 L493.2,329.8 L493.5,329.7 L493.8,329.8 L494.2,329.7 L494.5,329.8 L494.8,329.8 L495.1,329.8 L495.4,329.8 L495.8,329.9 L496.1,329.9 L496.4,329.9 L496.7,329.8 L497.0,329.8 L497.3,329.8 L497.7,330.0 L498.0,330.0 L498.3,329.9 L498.6,329.8 L498.9,329.9 L499.3,330.0 L499.6,330.0 L499.9,329.8 L500.2,329.8 L500.5,329.9 L500.8,330.1 L501.2,330.1 L501.5,329.9 L501.8,329.9 L502.1,329.8 L502.4,329.7 L502.7,329.7 L503.1,329.6 L503.4,329.7 L503.7,329.6 L504.0,329.8 L504.3,329.9 L504.7,330.0 L505.0,330.0 L505.3,330.2 L505.6,330.2 L505.9,330.0 L506.2,329.7 L506.6,329.7 L506.9,329.8 L507.2,329.9 L507.5,330.0 L507.8,330.0 L508.2,329.9 L508.5,329.9 L508.8,329.9 L509.1,330.0 L509.4,330.1 L509.7,330.1 L510.1,330.0 L510.4,329.9 L510.7,329.8 L511.0,329.7 L511.3,329.7 L511.6,329.8 L512.0,329.9 L512.3,329.8 L512.6,329.7 L512.9,329.7 L513.2,329.7 L513.6,329.6 L513.9,329.6 L514.2,329.7 L514.5,330.0 L514.8,329.9 L515.1,329.9 L515.5,329.9 L515.8,329.7 L516.1,329.7 L516.4,329.7 L516.7,330.0 L517.1,330.1 L517.4,330.2 L517.7,330.1 L518.0,330.0 L518.3,330.0 L518.6,329.9 L519.0,329.9 L519.3,329.9 L519.6,330.1 L519.9,330.1 L520.2,330.0 L520.5,329.9 L520.9,330.0 L521.2,330.0 L521.5,330.1 L521.8,329.9 L522.1,329.9 L522.5,329.8 L522.8,329.9 L523.1,330.0 L523.4,329.9 L523.7,329.8 L524.0,329.7 L524.4,329.8 L524.7,329.7 L525.0,329.8 L525.3,329.9 L525.6,330.0 L526.0,329.9 L526.3,330.0 L526.6,329.9 L526.9,330.0 L527.2,329.9 L527.5,329.8 L527.9,329.7 L528.2,329.8 L528.5,329.9 L528.8,329.9 L529.1,329.9 L529.4,329.8 L529.8,329.8 L530.1,329.9 L530.4,329.9 L530.7,329.9 L531.0,329.9 L531.4,330.1 L531.7,330.3 L532.0,330.2 L532.3,330.1 L532.6,330.0 L532.9,330.0 L533.3,329.9 L533.6,329.8 L533.9,329.8 L534.2,329.8 L534.5,329.7 L534.9,329.5 L535.2,329.7 L535.5,329.7 L535.8,329.8 L536.1,329.8 L536.4,329.9 L536.8,329.9 L537.1,329.9 L537.4,329.8 L537.7,329.8 L538.0,329.7 L538.3,329.8 L538.7,329.9 L539.0,329.9 L539.3,329.8 L539.6,329.8 L539.9,329.9 L540.3,329.8 L540.6,329.7 L540.9,329.6 L541.2,330.0 L541.5,330.1 L541.8,330.1 L542.2,330.0 L542.5,330.1 L542.8,330.1" fill="none" stroke="#1e1e98" stroke-width="1.15" stroke-linejoin="round"/>
<path d="M320.6,396.5 L320.9,396.7 L321.2,396.7 L321.6,396.8 L321.9,396.7 L322.2,396.8 L322.5,396.9 L322.8,397.0 L323.1,396.9 L323.5,396.5 L323.8,396.5 L324.1,396.5 L324.4,396.7 L324.7,396.7 L325.1,396.7 L325.4,396.5 L325.7,396.4 L326.0,396.4 L326.3,396.5 L326.6,396.4 L327.0,396.5 L327.3,396.3 L327.6,396.5 L327.9,396.5 L328.2,396.8 L328.5,396.9 L328.9,396.9 L329.2,396.6 L329.5,396.4 L329.8,396.2 L330.1,396.4 L330.5,396.4 L330.8,396.4 L331.1,396.5 L331.4,396.3 L331.7,396.5 L332.0,396.5 L332.4,396.6 L332.7,396.6 L333.0,396.5 L333.3,396.5 L333.6,396.3 L334.0,396.4 L334.3,396.6 L334.6,396.9 L334.9,397.1 L335.2,397.0 L335.5,396.7 L335.9,396.7 L336.2,396.7 L336.5,396.7 L336.8,396.5 L337.1,396.6 L337.4,396.5 L337.8,396.5 L338.1,396.4 L338.4,396.4 L338.7,396.7 L339.0,396.7 L339.4,396.8 L339.7,396.6 L340.0,396.7 L340.3,396.6 L340.6,396.5 L340.9,396.5 L341.3,396.6 L341.6,396.7 L341.9,396.7 L342.2,396.6 L342.5,396.6 L342.9,396.4 L343.2,396.6 L343.5,396.4 L343.8,396.4 L344.1,396.1 L344.4,396.4 L344.8,396.5 L345.1,396.6 L345.4,396.4 L345.7,396.4 L346.0,396.2 L346.3,396.3 L346.7,396.3 L347.0,396.2 L347.3,396.0 L347.6,395.9 L347.9,395.8 L348.3,395.9 L348.6,396.0 L348.9,396.1 L349.2,396.3 L349.5,396.2 L349.8,396.0 L350.2,395.7 L350.5,395.6 L350.8,395.6 L351.1,395.7 L351.4,395.6 L351.8,395.5 L352.1,395.5 L352.4,395.5 L352.7,395.7 L353.0,395.6 L353.3,395.6 L353.7,395.5 L354.0,395.6 L354.3,395.5 L354.6,395.5 L354.9,395.4 L355.2,395.1 L355.6,395.0 L355.9,394.9 L356.2,395.0 L356.5,394.9 L356.8,395.0 L357.2,395.0 L357.5,394.9 L357.8,394.6 L358.1,394.5 L358.4,394.6 L358.7,394.6 L359.1,394.7 L359.4,394.6 L359.7,394.7 L360.0,394.6 L360.3,394.6 L360.7,394.6 L361.0,394.9 L361.3,394.8 L361.6,394.7 L361.9,394.4 L362.2,394.6 L362.6,394.5 L362.9,394.5 L363.2,394.5 L363.5,394.5 L363.8,394.5 L364.1,394.5 L364.5,394.4 L364.8,394.4 L365.1,394.4 L365.4,394.6 L365.7,394.8 L366.1,394.7 L366.4,394.7 L366.7,394.8 L367.0,395.1 L367.3,395.2 L367.6,395.1 L368.0,395.1 L368.3,395.1 L368.6,395.2 L368.9,395.1 L369.2,395.4 L369.6,395.6 L369.9,395.9 L370.2,395.8 L370.5,395.9 L370.8,395.9 L371.1,396.0 L371.5,396.2 L371.8,396.4 L372.1,396.5 L372.4,396.3 L372.7,396.3 L373.1,396.5 L373.4,396.5 L373.7,396.3 L374.0,396.2 L374.3,396.2 L374.6,396.4 L375.0,396.5 L375.3,396.5 L375.6,396.6 L375.9,396.3 L376.2,396.4 L376.5,396.5 L376.9,396.6 L377.2,396.6 L377.5,396.4 L377.8,396.5 L378.1,396.3 L378.5,396.3 L378.8,396.2 L379.1,396.3 L379.4,396.2 L379.7,396.2 L380.0,396.0 L380.4,395.9 L380.7,395.6 L381.0,395.2 L381.3,394.8 L381.6,394.4 L382.0,394.0 L382.3,393.7 L382.6,393.6 L382.9,393.7 L383.2,394.1 L383.5,394.3 L383.9,394.9 L384.2,395.5 L384.5,396.0 L384.8,396.0 L385.1,395.9 L385.4,395.8 L385.8,395.8 L386.1,395.9 L386.4,395.7 L386.7,395.8 L387.0,395.6 L387.4,395.8 L387.7,395.8 L388.0,395.7 L388.3,395.6 L388.6,395.6 L388.9,395.7 L389.3,395.7 L389.6,395.6 L389.9,395.4 L390.2,395.5 L390.5,395.6 L390.9,395.8 L391.2,395.8 L391.5,395.8 L391.8,395.8 L392.1,395.7 L392.4,395.7 L392.8,395.8 L393.1,395.8 L393.4,396.0 L393.7,395.8 L394.0,395.9 L394.3,395.9 L394.7,396.0 L395.0,396.0 L395.3,395.9 L395.6,396.0 L395.9,396.3 L396.3,396.3 L396.6,396.3 L396.9,396.3 L397.2,396.3 L397.5,396.3 L397.8,396.3 L398.2,396.3 L398.5,396.3 L398.8,396.3 L399.1,396.4 L399.4,396.4 L399.8,396.4 L400.1,396.5 L400.4,396.6 L400.7,396.7 L401.0,396.7 L401.3,396.8 L401.7,396.9 L402.0,396.7 L402.3,396.8 L402.6,396.5 L402.9,396.8 L403.2,396.9 L403.6,396.7 L403.9,396.5 L404.2,396.4 L404.5,396.6 L404.8,396.8 L405.2,396.7 L405.5,396.7 L405.8,396.7 L406.1,396.7 L406.4,396.7 L406.7,396.5 L407.1,396.5 L407.4,396.3 L407.7,396.6 L408.0,396.6 L408.3,396.6 L408.7,396.5 L409.0,396.5 L409.3,396.5 L409.6,396.3 L409.9,396.4 L410.2,396.5 L410.6,396.7 L410.9,396.7 L411.2,396.8 L411.5,396.7 L411.8,396.7 L412.2,396.6 L412.5,396.7 L412.8,396.7 L413.1,396.6 L413.4,396.5 L413.7,396.6 L414.1,396.5 L414.4,396.6 L414.7,396.6 L415.0,396.7 L415.3,396.5 L415.6,396.6 L416.0,396.6 L416.3,396.6 L416.6,396.8 L416.9,396.8 L417.2,397.0 L417.6,396.9 L417.9,396.8 L418.2,396.6 L418.5,396.5 L418.8,396.6 L419.1,396.7 L419.5,396.6 L419.8,396.4 L420.1,396.4 L420.4,396.2 L420.7,396.4 L421.1,396.4 L421.4,396.5 L421.7,396.4 L422.0,396.5 L422.3,396.5 L422.6,396.3 L423.0,396.2 L423.3,396.1 L423.6,396.2 L423.9,396.5 L424.2,396.6 L424.5,396.7 L424.9,396.4 L425.2,396.6 L425.5,396.5 L425.8,396.6 L426.1,396.6 L426.5,396.8 L426.8,396.8 L427.1,396.8 L427.4,396.5 L427.7,396.6 L428.0,396.5 L428.4,396.7 L428.7,396.7 L429.0,396.8 L429.3,396.6 L429.6,396.5 L430.0,396.5 L430.3,396.6 L430.6,396.6 L430.9,396.5 L431.2,396.4 L431.5,396.5 L431.9,396.7 L432.2,396.9 L432.5,396.8 L432.8,396.5 L433.1,396.4 L433.4,396.6 L433.8,396.6 L434.1,396.6 L434.4,396.5 L434.7,396.7 L435.0,396.7 L435.4,396.5 L435.7,396.3 L436.0,396.3 L436.3,396.2 L436.6,396.4 L436.9,396.4 L437.3,396.7 L437.6,396.8 L437.9,396.9 L438.2,396.8 L438.5,396.7 L438.9,396.7 L439.2,396.7 L439.5,396.5 L439.8,396.4 L440.1,396.4 L440.4,396.6 L440.8,396.4 L441.1,396.4 L441.4,396.2 L441.7,396.5 L442.0,396.6 L442.3,396.6 L442.7,396.6 L443.0,396.7 L443.3,396.5 L443.6,396.5 L443.9,396.3 L444.3,396.5 L444.6,396.6 L444.9,396.5 L445.2,396.5 L445.5,396.5 L445.8,396.6 L446.2,396.6 L446.5,396.8 L446.8,396.9 L447.1,396.9 L447.4,396.7 L447.8,396.7 L448.1,396.9 L448.4,396.9 L448.7,396.7 L449.0,396.6 L449.3,396.5 L449.7,396.5 L450.0,396.6 L450.3,396.6 L450.6,396.6 L450.9,396.4 L451.2,396.4 L451.6,396.4 L451.9,396.5 L452.2,396.6 L452.5,396.7 L452.8,396.8 L453.2,396.7 L453.5,396.7 L453.8,396.6 L454.1,396.6 L454.4,396.6 L454.7,396.5 L455.1,396.7 L455.4,396.6 L455.7,396.7 L456.0,396.5 L456.3,396.4 L456.7,396.5 L457.0,396.5 L457.3,396.7 L457.6,396.6 L457.9,396.4 L458.2,396.2 L458.6,396.1 L458.9,396.3 L459.2,396.5 L459.5,396.8 L459.8,396.6 L460.2,396.5 L460.5,396.6 L460.8,396.7 L461.1,396.8 L461.4,396.7 L461.7,396.9 L462.1,397.0 L462.4,397.0 L462.7,396.8 L463.0,396.7 L463.3,396.6 L463.6,396.5 L464.0,396.4 L464.3,396.4 L464.6,396.5 L464.9,396.5 L465.2,396.8 L465.6,396.7 L465.9,396.7 L466.2,396.5 L466.5,396.6 L466.8,396.7 L467.1,396.7 L467.5,396.6 L467.8,396.3 L468.1,396.3 L468.4,396.4 L468.7,396.6 L469.1,396.6 L469.4,396.5 L469.7,396.5 L470.0,396.6 L470.3,396.6 L470.6,396.6 L471.0,396.4 L471.3,396.3 L471.6,396.5 L471.9,396.4 L472.2,396.5 L472.5,396.4 L472.9,396.6 L473.2,396.5 L473.5,396.5 L473.8,396.5 L474.1,396.6 L474.5,396.4 L474.8,396.4 L475.1,396.3 L475.4,396.5 L475.7,396.5 L476.0,396.6 L476.4,396.8 L476.7,396.7 L477.0,396.7 L477.3,396.7 L477.6,396.9 L478.0,396.9 L478.3,396.8 L478.6,396.7 L478.9,396.6 L479.2,396.5 L479.5,396.6 L479.9,396.4 L480.2,396.5 L480.5,396.4 L480.8,396.3 L481.1,396.4 L481.4,396.6 L481.8,396.8 L482.1,396.8 L482.4,396.7 L482.7,396.5 L483.0,396.5 L483.4,396.5 L483.7,396.7 L484.0,396.8 L484.3,396.8 L484.6,396.6 L484.9,396.4 L485.3,396.2 L485.6,396.3 L485.9,396.5 L486.2,396.6 L486.5,396.6 L486.9,396.5 L487.2,396.6 L487.5,396.7 L487.8,396.6 L488.1,396.5 L488.4,396.5 L488.8,396.7 L489.1,396.8 L489.4,396.9 L489.7,396.9 L490.0,397.0 L490.3,396.9 L490.7,396.6 L491.0,396.5 L491.3,396.5 L491.6,396.6 L491.9,396.7 L492.3,396.6 L492.6,396.6 L492.9,396.6 L493.2,396.7 L493.5,396.8 L493.8,396.8 L494.2,396.8 L494.5,396.8 L494.8,396.5 L495.1,396.3 L495.4,396.3 L495.8,396.4 L496.1,396.5 L496.4,396.6 L496.7,396.7 L497.0,396.6 L497.3,396.6 L497.7,396.6 L498.0,396.6 L498.3,396.5 L498.6,396.5 L498.9,396.6 L499.3,396.6 L499.6,396.6 L499.9,396.5 L500.2,396.5 L500.5,396.6 L500.8,396.6 L501.2,396.6 L501.5,396.6 L501.8,396.9 L502.1,396.8 L502.4,396.9 L502.7,396.7 L503.1,396.7 L503.4,396.7 L503.7,396.7 L504.0,396.9 L504.3,396.8 L504.7,396.7 L505.0,396.5 L505.3,396.5 L505.6,396.7 L505.9,396.8 L506.2,396.8 L506.6,396.9 L506.9,396.9 L507.2,396.9 L507.5,396.6 L507.8,396.4 L508.2,396.2 L508.5,396.5 L508.8,396.5 L509.1,396.8 L509.4,396.7 L509.7,396.9 L510.1,396.9 L510.4,396.8 L510.7,396.7 L511.0,396.6 L511.3,396.6 L511.6,396.6 L512.0,396.6 L512.3,396.7 L512.6,396.6 L512.9,396.6 L513.2,396.4 L513.6,396.6 L513.9,396.6 L514.2,396.7 L514.5,396.7 L514.8,396.5 L515.1,396.6 L515.5,396.5 L515.8,396.7 L516.1,396.6 L516.4,396.4 L516.7,396.3 L517.1,396.3 L517.4,396.7 L517.7,396.8 L518.0,396.8 L518.3,396.5 L518.6,396.6 L519.0,396.8 L519.3,396.9 L519.6,396.8 L519.9,396.4 L520.2,396.5 L520.5,396.8 L520.9,397.0 L521.2,397.0 L521.5,396.8 L521.8,396.7 L522.1,396.7 L522.5,396.5 L522.8,396.6 L523.1,396.5 L523.4,396.7 L523.7,396.7 L524.0,396.8 L524.4,396.6 L524.7,396.4 L525.0,396.4 L525.3,396.4 L525.6,396.4 L526.0,396.3 L526.3,396.3 L526.6,396.3 L526.9,396.3 L527.2,396.1 L527.5,396.3 L527.9,396.5 L528.2,396.8 L528.5,396.7 L528.8,396.6 L529.1,396.5 L529.4,396.6 L529.8,396.6 L530.1,396.7 L530.4,396.7 L530.7,396.6 L531.0,396.3 L531.4,396.4 L531.7,396.5 L532.0,396.5 L532.3,396.4 L532.6,396.4 L532.9,396.6 L533.3,396.6 L533.6,396.7 L533.9,396.7 L534.2,396.5 L534.5,396.5 L534.9,396.4 L535.2,396.6 L535.5,396.4 L535.8,396.3 L536.1,396.4 L536.4,396.8 L536.8,396.6 L537.1,396.8 L537.4,396.5 L537.7,396.8 L538.0,396.7 L538.3,396.9 L538.7,396.8 L539.0,396.6 L539.3,396.6 L539.6,396.5 L539.9,396.4 L540.3,396.6 L540.6,396.7 L540.9,397.1 L541.2,396.8 L541.5,396.8 L541.8,396.8 L542.2,397.0 L542.5,396.9 L542.8,396.7" fill="none" stroke="#f21d24" stroke-width="1.3" stroke-linejoin="round"/>
</svg>
</body></html>
